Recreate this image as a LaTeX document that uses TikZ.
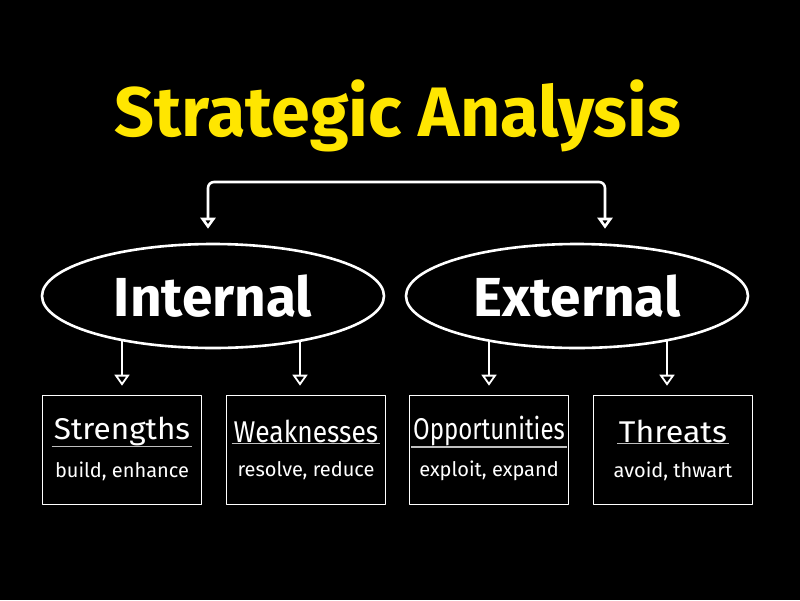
\documentclass[tikz,border=0pt]{standalone}
\usepackage{fontspec}
\setmainfont{Fira Sans}
\usetikzlibrary{arrows.meta,positioning,shapes.geometric,calc}
\definecolor{titleyellow}{RGB}{255,230,0}

\begin{document}
\begin{tikzpicture}[x=1pt,y=-1pt,>={Triangle[open,length=11pt,width=15pt]},
  line join=round,
  branch/.style={ellipse,draw=white,fill=black,line width=2.6pt,
    minimum width=342pt,minimum height=104pt,text=white,
    font=\bfseries\fontsize{55}{62}\selectfont},
  swotbox/.style={draw=white,line width=1.6pt,minimum width=159pt,minimum height=109pt},
  swothead/.style={text=white,inner sep=1pt,font=\fontsize{30}{34}\selectfont},
  swotsub/.style={text=white,inner sep=1pt,font=\fontsize{20}{23}\selectfont},
  link/.style={draw=white,line width=1.8pt,->,shorten >=9pt}]
  \fill[black] (0,0) rectangle (800,600);
  \useasboundingbox (0,0) rectangle (800,600);
%%
  % Node: title
  \node[text=titleyellow,font=\bfseries\fontsize{70}{78}\selectfont] (title) at (398,116) {Strategic Analysis};
  % Node: boxes
  \node[swotbox] (s) at (122,450) {};
  \node[swotbox] (w) at (306,450) {};
  \node[swotbox] (o) at (489,450) {};
  \node[swotbox] (t) at (673,450) {};
  % Edge: branch -> boxes (drawn under the ellipses)
  \draw[link] (s.north |- 0,300) -- (s.north);
  \draw[link] ($(w.north |- 0,300)+(-6,0)$) -- ($(w.north)+(-6,0)$);
  \draw[link] (o.north |- 0,300) -- (o.north);
  \draw[link] ($(t.north |- 0,300)+(-6,0)$) -- ($(t.north)+(-6,0)$);
  % Node: internal / external
  \node[branch] (int) at (213,296) {Internal};
  \node[branch] (ext) at (577,296) {External};
  % Edge: title bracket
  \coordinate (intin) at ($(int.north)+(-5,-14)$);
  \coordinate (extin) at ($(ext.north)+(28,-14)$);
  \draw[white,line width=2.6pt,<->,rounded corners=6pt]
    (intin) -- (intin |- 0,182) -- (extin |- 0,182) -- (extin);
  % Node: headings and notes
  \foreach \b/\xs/\head/\note in {s/1.05/Strengths/{build, enhance},w/0.88/Weaknesses/{resolve, reduce},
      o/0.8/Opportunities/{exploit, expand},t/1.07/Threats/{avoid, thwart}}{
    \node[swothead] (\b h) at ($(\b.center)+(0,-19)$) {\scalebox{\xs}[1]{\head}};
    \draw[white!75!black,line width=1.4pt] ($(\b h.south west)+(-1,0)$) -- ($(\b h.south east)+(1,0)$);
    \node[swotsub] (\b n) at ($(\b.center)+(0,21)$) {\note};
  }
%
\end{tikzpicture}
\end{document}
